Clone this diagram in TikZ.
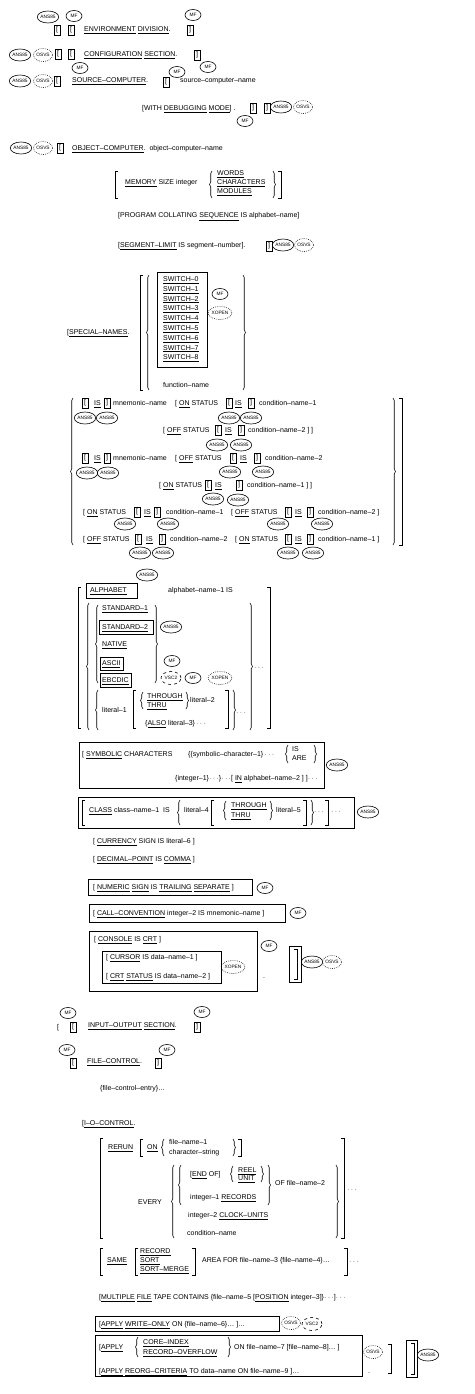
\documentclass[tikz,border=0pt]{standalone}
\usepackage{fontspec}
\setmainfont{Liberation Sans}
\usetikzlibrary{shapes.geometric}
\usetikzlibrary{decorations.pathreplacing}
\newcommand{\kw}[1]{\underline{#1}}
\tikzset{
	every node/.style={font=\fontsize{7}{8.5}\selectfont},
	txt/.style={anchor=west,inner sep=0pt,text height=5pt,text depth=0pt},
	tag/.style={ellipse,draw,inner sep=0pt,minimum height=12pt,font=\fontsize{4.8}{5}\selectfont,line width=0.6pt},
	ans/.style={tag,minimum width=20pt},
	mf/.style={tag,minimum width=16pt,minimum height=11pt},
	osvs/.style={tag,dash pattern=on 0.7pt off 1.2pt,minimum width=19pt,minimum height=13pt},
	xopen/.style={tag,dash pattern=on 0.7pt off 1.2pt,minimum width=22pt,minimum height=13pt},
	vsc/.style={tag,dashed,minimum width=20pt,minimum height=13pt},
	bx/.style={draw,inner sep=0pt,minimum width=6pt,minimum height=10pt,line width=0.7pt},
	kbox/.style={line width=0.7pt},
	brk/.style={line width=0.6pt},
	brace/.style={decorate,decoration={brace,amplitude=2.5pt},line width=0.6pt},
}

\begin{document}
\begin{tikzpicture}[x=1pt,y=-1pt]
	\useasboundingbox (0,0) rectangle (474,1394);

	% ENVIRONMENT DIVISION...................
	\node[ans] (envans) at (48,17) {ANS85};
	\node[mf] (envmfa) at (74,16) {MF};
	\node[bx] (envla) at (57,30) {[};
	\node[bx] (envlb) at (71,30) {[};
	\node[txt] (envdiv) at (84,29) {\kw{ENVIRONMENT} \kw{DIVISION}.};
	\node[mf] (envmfb) at (193,15) {MF};
	\node[bx] (envr) at (190,30) {]};

	% CONFIGURATION SECTION..................
	\node[ans] (cfgans) at (20,55) {ANS85};
	\node[osvs] (cfgosvs) at (43,55) {OSVS};
	\node[bx] (cfgla) at (58,54) {[};
	\node[bx] (cfglb) at (71,54) {[};
	\node[txt] (cfgsec) at (84,54) {\kw{CONFIGURATION} \kw{SECTION}.};
	\node[bx] (cfgr) at (197,55) {]};

	% SOURCE-COMPUTER........................
	\node[mf] (srcmfa) at (80,68) {MF};
	\node[ans] (srcans) at (20,81) {ANS85};
	\node[osvs] (srcosvs) at (43,81) {OSVS};
	\node[bx] (srcl) at (57,81) {[};
	\node[txt] (srccomp) at (72,80) {\kw{SOURCE--COMPUTER}.};
	\node[bx] (srclb) at (166,82) {[};
	\node[mf] (srcmfb) at (177,72) {MF};
	\node[mf] (srcmfc) at (208,67) {MF};
	\node[txt] (srcname) at (180,80) {source--computer--name};
	\node[txt] (debug) at (142,108) {[WITH \kw{DEBUGGING} \kw{MODE}] .};
	\node[bx] (debra) at (253,108) {]};
	\node[bx] (debrb) at (267,108) {]};
	\node[ans] (debans) at (281,107) {ANS85};
	\node[osvs] (debosvs) at (303,107) {OSVS};
	\node[mf] (debmf) at (245,121) {MF};

	% OBJECT-COMPUTER........................
	\node[ans] (objans) at (21,148) {ANS85};
	\node[osvs] (objosvs) at (43,148) {OSVS};
	\node[bx] (objl) at (60,148) {[};
	\node[txt] (objcomp) at (72,148) {\kw{OBJECT--COMPUTER}.\ \ object--computer--name};
	\draw[brk] (118,171) -- (115,171) -- (115,198) -- (118,198);
	\node[txt] (memsize) at (125,182) {\kw{MEMORY} SIZE integer};
	\draw[brace] (212,198) -- (212,171);
	\node[txt] (words) at (217,173) {\kw{WORDS}};
	\node[txt] (chars) at (217,182) {\kw{CHARACTERS}};
	\node[txt] (modules) at (217,191) {\kw{MODULES}};
	\draw[brace] (273,171) -- (273,198);
	\draw[brk] (278,171) -- (281,171) -- (281,198) -- (278,198);
	\node[txt] (progcol) at (118,215) {[PROGRAM COLLATING \kw{SEQUENCE} IS alphabet--name]};
	\node[txt] (seglim) at (118,245) {[\kw{SEGMENT--LIMIT} IS segment--number].};
	\node[bx] (segr) at (269,246) {]};
	\node[ans] (segans) at (283,245) {ANS85};
	\node[osvs] (segosvs) at (304,245) {OSVS};

	% SPECIAL-NAMES..........................
	\node[txt] (special) at (67,332) {[\kw{SPECIAL--NAMES}.};
	\draw[brk] (143,275) -- (140,275) -- (140,390) -- (143,390);
	\draw[brace] (149,390) -- (149,275);
	\draw[kbox] (157,272) rectangle (207,367);
	\foreach \i in {0,...,8}
		\node[txt] (sw\i) at (163,{279+9.8*\i}) {\kw{SWITCH--\i}};
	\node[txt] (funcname) at (163,385) {function--name};
	\node[mf] (swmf) at (220,294) {MF};
	\node[xopen] (swxopen) at (220,313) {XOPEN};
	\draw[brace] (243,275) -- (243,390);

	% mnemonic-name clauses..................
	\draw[brace] (73,545) -- (73,398);
	\draw[brace] (393,398) -- (393,545);
	\draw[brk] (399,398) -- (402,398) -- (402,545) -- (399,545);
	% line 1
	\node[bx] (mla) at (85,403) {[};
	\node[txt] (mis) at (94,403) {\kw{IS}};
	\node[bx] (mra) at (107,403) {]};
	\node[txt] (mna) at (113,403) {mnemonic--name};
	\node[txt] (onsa) at (175,403) {[ \kw{ON} STATUS};
	\node[bx] (mlb) at (229,403) {[};
	\node[txt] (misb) at (235,403) {\kw{IS}};
	\node[bx] (mrb) at (251,403) {]};
	\node[txt] (cna) at (259,403) {condition--name--1};
	\node[ans] (ma1) at (85,418) {ANS85};
	\node[ans] (ma2) at (107,418) {ANS85};
	\node[ans] (ma3) at (229,418) {ANS85};
	\node[ans] (ma4) at (251,418) {ANS85};
	% line 2
	\node[txt] (offsb) at (163,430) {[ \kw{OFF} STATUS};
	\node[bx] (mlc) at (218,430) {[};
	\node[txt] (misc) at (225,430) {\kw{IS}};
	\node[bx] (mrc) at (241,430) {]};
	\node[txt] (cnb) at (248,430) {condition--name--2 ] ]};
	\node[ans] (ma5) at (217,445) {ANS85};
	\node[ans] (ma6) at (241,445) {ANS85};
	% line 3
	\node[bx] (mld) at (85,458) {[};
	\node[txt] (misd) at (94,458) {\kw{IS}};
	\node[bx] (mrd) at (107,458) {]};
	\node[txt] (mnb) at (113,458) {mnemonic--name};
	\node[txt] (offsc) at (175,458) {[ \kw{OFF} STATUS};
	\node[bx] (mle) at (233,458) {[};
	\node[txt] (mise) at (240,458) {\kw{IS}};
	\node[bx] (mre) at (257,458) {]};
	\node[txt] (cnc) at (265,458) {condition--name--2};
	\node[ans] (ma7) at (87,473) {ANS85};
	\node[ans] (ma8) at (108,473) {ANS85};
	\node[ans] (ma9) at (230,472) {ANS85};
	\node[ans] (ma10) at (263,472) {ANS85};
	% line 4
	\node[txt] (onsd) at (159,485) {[ \kw{ON} STATUS};
	\node[bx] (mlf) at (208,485) {[};
	\node[txt] (misf) at (215,485) {\kw{IS}};
	\node[bx] (mrf) at (239,485) {]};
	\node[txt] (cnd) at (247,485) {condition--name--1 ] ]};
	\node[ans] (ma11) at (213,499) {ANS85};
	\node[ans] (ma12) at (238,500) {ANS85};
	% line 5
	\node[txt] (onse) at (83,512) {[ \kw{ON} STATUS};
	\node[bx] (mlg) at (137,512) {[};
	\node[txt] (misg) at (144,512) {\kw{IS}};
	\node[bx] (mrg) at (157,512) {]};
	\node[txt] (cne) at (166,512) {condition--name--1};
	\node[txt] (offsf) at (231,512) {[ \kw{OFF} STATUS};
	\node[bx] (mlh) at (288,512) {[};
	\node[txt] (mish) at (295,512) {\kw{IS}};
	\node[bx] (mrh) at (310,512) {]};
	\node[txt] (cnf) at (318,512) {condition--name--2 ]};
	\node[ans] (ma13) at (125,524) {ANS85};
	\node[ans] (ma14) at (168,524) {ANS85};
	\node[ans] (ma15) at (278,524) {ANS85};
	\node[ans] (ma16) at (322,524) {ANS85};
	% line 6
	\node[txt] (offsg) at (83,539) {[ \kw{OFF} STATUS};
	\node[bx] (mli) at (138,539) {[};
	\node[txt] (misi) at (146,539) {\kw{IS}};
	\node[bx] (mri) at (162,539) {]};
	\node[txt] (cng) at (170,539) {condition--name--2};
	\node[txt] (onsh) at (235,539) {[ \kw{ON} STATUS};
	\node[bx] (mlj) at (288,539) {[};
	\node[txt] (misj) at (295,539) {\kw{IS}};
	\node[bx] (mrj) at (310,539) {]};
	\node[txt] (cnh) at (318,539) {condition--name--1 ]};
	\node[ans] (ma17) at (140,553) {ANS85};
	\node[ans] (ma18) at (163,553) {ANS85};
	\node[ans] (ma19) at (288,553) {ANS85};
	\node[ans] (ma20) at (313,553) {ANS85};

	% ALPHABET clause........................
	\node[ans] (alpans) at (147,575) {ANS85};
	\draw[brk] (81,587) -- (78,587) -- (78,728) -- (81,728);
	\draw[brk] (267,587) -- (270,587) -- (270,728) -- (267,728);
	\draw[kbox] (86,583) rectangle (137,598);
	\node[txt] (alphabet) at (90,590) {\kw{ALPHABET}};
	\node[txt] (alpname) at (168,590) {alphabet--name--1 IS};
	\draw[brace] (89,730) -- (89,603);
	\draw[brace] (250,603) -- (250,730);
	\node[txt] (alpdots) at (254,667) {$\cdots$};
	\draw[brace] (98,683) -- (98,605);
	\draw[brace] (155,605) -- (155,683);
	\node[txt] (std1) at (102,608) {\kw{STANDARD--1}};
	\draw[kbox] (99,620) rectangle (153,634);
	\node[txt] (std2) at (102,627) {\kw{STANDARD--2}};
	\node[ans] (std2ans) at (171,627) {ANS85};
	\node[txt] (native) at (102,644) {\kw{NATIVE}};
	\draw[kbox] (100,657) rectangle (123,670);
	\node[txt] (ascii) at (102,663) {\kw{ASCII}};
	\node[mf] (asciimf) at (172,661) {MF};
	\draw[kbox] (100,673) rectangle (131,687);
	\node[txt] (ebcdic) at (102,680) {\kw{EBCDIC}};
	\node[vsc] (ebcvsc) at (171,678) {VSC2};
	\node[mf] (ebcmf) at (193,678) {MF};
	\node[xopen] (ebcxopen) at (220,678) {XOPEN};
	\draw[brace] (98,730) -- (98,690);
	\node[txt] (lita) at (102,710) {literal--1};
	\draw[brk] (136,690) -- (133,690) -- (133,728) -- (136,728);
	\draw[brace] (143,709) -- (143,692);
	\node[txt] (thra) at (147,696) {\kw{THROUGH}};
	\node[txt] (thrb) at (147,705) {\kw{THRU}};
	\draw[brace] (186,692) -- (186,709);
	\node[txt] (litb) at (190,700) {literal--2};
	\node[txt] (also) at (145,723) {\{\kw{ALSO} literal--3\}\,$\cdots$};
	\draw[brk] (225,690) -- (228,690) -- (228,728) -- (225,728);
	\draw[brace] (233,690) -- (233,730);
	\node[txt] (litdots) at (236,712) {$\cdots$};

	% SYMBOLIC CHARACTERS....................
	\draw[kbox] (79,742) rectangle (324,788);
	\node[txt] (symb) at (82,754) {[ \kw{SYMBOLIC} CHARACTERS};
	\node[txt] (symchar) at (188,754) {\{\{symbolic--character--1\}\,$\cdots$};
	\draw[brace] (288,763) -- (288,745);
	\node[txt] (symis) at (292,749) {IS};
	\node[txt] (symare) at (292,758) {ARE};
	\draw[brace] (314,745) -- (314,763);
	\node[txt] (symint) at (175,778) {\{integer--1\}$\cdots$\}$\cdots$[ \kw{IN} alphabet--name--2 ] ]$\cdots$};
	\node[ans] (symans) at (337,765) {ANS85};

	% CLASS..................................
	\draw[kbox] (78,797) rectangle (354,828);
	\draw[brk] (85,800) -- (82,800) -- (82,825) -- (85,825);
	\node[txt] (class) at (89,810) {\kw{CLASS} class--name--1\ \ IS};
	\draw[brace] (180,825) -- (180,800);
	\node[txt] (litc) at (184,810) {literal--4};
	\draw[brk] (214,800) -- (211,800) -- (211,825) -- (214,825);
	\draw[brace] (226,820) -- (226,801);
	\node[txt] (thrc) at (231,805) {\kw{THROUGH}};
	\node[txt] (thrd) at (231,815) {\kw{THRU}};
	\draw[brace] (270,801) -- (270,820);
	\node[txt] (litd) at (276,810) {literal--5};
	\draw[brk] (303,800) -- (306,800) -- (306,825) -- (303,825);
	\draw[brace] (311,800) -- (311,825);
	\node[txt] (clsdota) at (314,811) {$\cdots$};
	\draw[brk] (325,800) -- (328,800) -- (328,825) -- (325,825);
	\node[txt] (clsdotb) at (331,811) {$\cdots$};
	\node[ans] (clsans) at (368,812) {ANS85};

	% CURRENCY, DECIMAL-POINT................
	\node[txt] (currency) at (93,841) {[ \kw{CURRENCY} SIGN IS literal--6 ]};
	\node[txt] (decimal) at (93,859) {[ \kw{DECIMAL--POINT} IS \kw{COMMA} ]};

	% NUMERIC SIGN, CALL-CONVENTION..........
	\draw[kbox] (88,879) rectangle (252,895);
	\node[txt] (numeric) at (93,887) {[ \kw{NUMERIC} \kw{SIGN} IS \kw{TRAILING} \kw{SEPARATE} ]};
	\node[mf] (nummf) at (265,888) {MF};
	\draw[kbox] (89,904) rectangle (285,922);
	\node[txt] (callconv) at (93,913) {[ \kw{CALL--CONVENTION} integer--2 IS mnemonic--name ]};
	\node[mf] (callmf) at (298,913) {MF};

	% CONSOLE IS CRT.........................
	\draw[kbox] (89,931) rectangle (257,991);
	\node[txt] (console) at (94,939) {[ \kw{CONSOLE} IS \kw{CRT} ]};
	\draw[kbox] (102,951) rectangle (221,983);
	\node[txt] (cursor) at (106,957) {[ \kw{CURSOR} IS data--name--1 ]};
	\node[txt] (crtstat) at (106,976) {[ \kw{CRT} \kw{STATUS} IS data--name--2 ]};
	\node[xopen] (crtxopen) at (233,967) {XOPEN};
	\node[mf] (conmf) at (269,946) {MF};
	\node[txt] (condot) at (263,976) {.};
	\draw[kbox] (289,946) rectangle (301,982);
	\draw[brk] (294,949) -- (297,949) -- (297,979) -- (294,979);
	\node[ans] (conans) at (312,962) {ANS85};
	\node[osvs] (conosvs) at (332,962) {OSVS};

	% INPUT-OUTPUT SECTION...................
	\node[mf] (iomfa) at (68,1013) {MF};
	\node[txt] (iolp) at (57,1027) {[};
	\node[bx] (iol) at (73,1027) {[};
	\node[txt] (iosec) at (88,1025) {\kw{INPUT--OUTPUT} \kw{SECTION}.};
	\node[mf] (iomfb) at (202,1012) {MF};
	\node[bx] (ior) at (197,1027) {]};

	% FILE-CONTROL...........................
	\node[mf] (fcmfa) at (67,1050) {MF};
	\node[bx] (fcl) at (73,1063) {[};
	\node[txt] (filectl) at (87,1061) {\kw{FILE--CONTROL}.};
	\node[mf] (fcmfb) at (167,1050) {MF};
	\node[bx] (fcr) at (158,1063) {]};
	\node[txt] (fcentry) at (100,1088) {\{file--control--entry\}\dots};

	% I-O-CONTROL............................
	\node[txt] (ioctl) at (82,1123) {[\kw{I--O--CONTROL}.};
	\draw[brk] (103,1138) -- (100,1138) -- (100,1238) -- (103,1238);
	\draw[brk] (341,1138) -- (344,1138) -- (344,1238) -- (341,1238);
	\node[txt] (rerdots) at (347,1189) {$\cdots$};
	\node[txt] (rerun) at (108,1147) {\kw{RERUN}};
	\draw[brk] (143,1139) -- (140,1139) -- (140,1156) -- (143,1156);
	\node[txt] (reron) at (147,1147) {\kw{ON}};
	\draw[brace] (164,1156) -- (164,1139);
	\node[txt] (fna) at (169,1142) {file--name--1};
	\node[txt] (chstr) at (169,1152) {character--string};
	\draw[brace] (233,1139) -- (233,1156);
	\draw[brk] (238,1139) -- (241,1139) -- (241,1156) -- (238,1156);
	\node[txt] (every) at (138,1202) {EVERY};
	\draw[brace] (174,1238) -- (174,1165);
	\draw[brace] (336,1165) -- (336,1238);
	\draw[brace] (181,1205) -- (181,1165);
	\draw[brace] (268,1165) -- (268,1205);
	\node[txt] (endof) at (190,1174) {[\kw{END} OF]};
	\draw[brace] (233,1182) -- (233,1166);
	\node[txt] (reel) at (238,1170) {\kw{REEL}};
	\node[txt] (unit) at (238,1178) {\kw{UNIT}};
	\draw[brace] (261,1166) -- (261,1182);
	\node[txt] (offn) at (275,1183) {OF file--name--2};
	\node[txt] (intrec) at (190,1197) {integer--1 \kw{RECORDS}};
	\node[txt] (intclk) at (188,1215) {integer--2 \kw{CLOCK--UNITS}};
	\node[txt] (condn) at (187,1233) {condition--name};

	% SAME AREA..............................
	\draw[brk] (103,1248) -- (100,1248) -- (100,1275) -- (103,1275);
	\node[txt] (same) at (107,1260) {\kw{SAME}};
	\draw[brk] (138,1248) -- (135,1248) -- (135,1275) -- (138,1275);
	\node[txt] (srec) at (140,1251) {\kw{RECORD}};
	\node[txt] (ssort) at (140,1260) {\kw{SORT}};
	\node[txt] (smerge) at (140,1269) {\kw{SORT--MERGE}};
	\draw[brk] (192,1248) -- (195,1248) -- (195,1275) -- (192,1275);
	\node[txt] (area) at (202,1260) {AREA FOR file--name--3 \{file--name--4\}\dots};
	\draw[brk] (344,1248) -- (347,1248) -- (347,1275) -- (344,1275);
	\node[txt] (samedots) at (349,1261) {$\cdots$};

	% MULTIPLE FILE, APPLY...................
	\node[txt] (multiple) at (99,1297) {[\kw{MULTIPLE} \kw{FILE} TAPE CONTAINS \{file--name--5 [\kw{POSITION} integer--3]\}$\cdots$]$\cdots$};
	\draw[kbox] (95,1316) rectangle (279,1331);
	\node[txt] (wronly) at (99,1324) {[\kw{APPLY} \kw{WRITE--ONLY} ON \{file--name--6\}\dots\ ]\dots};
	\node[osvs] (wrosvs) at (291,1323) {OSVS};
	\node[vsc] (wrvsc) at (312,1324) {VSC2};
	\draw[kbox] (95,1335) rectangle (362,1376);
	\node[txt] (applya) at (99,1347) {[\kw{APPLY}};
	\draw[brace] (138,1357) -- (138,1337);
	\node[txt] (coreidx) at (143,1342) {\kw{CORE--INDEX}};
	\node[txt] (recovf) at (143,1352) {\kw{RECORD--OVERFLOW}};
	\draw[brace] (228,1337) -- (228,1357);
	\node[txt] (onfn) at (234,1347) {ON file--name--7 [file--name--8]\dots\ ]};
	\node[txt] (reorg) at (99,1371) {[\kw{APPLY} \kw{REORG--CRITERIA} TO data--name ON file--name--9 ]\dots};
	\node[osvs] (aposvs) at (373,1352) {OSVS};
	\node[txt] (apdot) at (368,1371) {.};
	\draw[brk] (388,1344) -- (391,1344) -- (391,1373) -- (388,1373);
	\draw[kbox] (406,1340) rectangle (417,1377);
	\draw[brk] (411,1343) -- (414,1343) -- (414,1374) -- (411,1374);
	\node[ans] (apans) at (428,1355) {ANS85};
\end{tikzpicture}
\end{document}
